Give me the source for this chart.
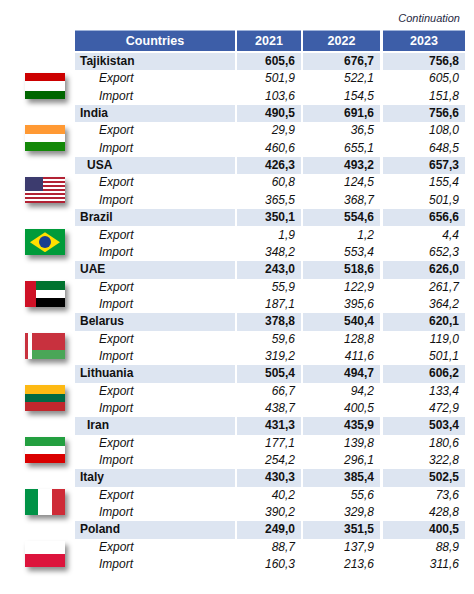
<!DOCTYPE html>
<html lang="en">
<head>
<meta charset="UTF-8">
<script src="https://cdn.jsdelivr.net/npm/chart.js"></script>
<style>
  body { margin: 0; width: 474px; height: 594px; background: #fff; font-family: Arial, "Liberation Sans", sans-serif; position: relative; overflow: hidden; }
  .abs { position: absolute; box-sizing: border-box; }
  .cont { right: 14px; top: 12px; font-size: 11px; font-style: italic; color: #1f2a44; }
  .hdr { background: #3d5ea8; color: #fff; font-weight: bold; font-size: 12.5px; text-align: center; line-height: 20px; border-top: 1px solid #9fb3d9; }
  .crow { background: #dde5f1; }
  .cell { font-size: 12px; line-height: 17px; color: #111; }
  .num { text-align: right; }
  .b { font-weight: bold; }
  .i { font-style: italic; }
  .flag { width: 40px; height: 26px; box-shadow: 3px 4px 5px rgba(0,0,0,0.45); overflow: hidden; }
</style>
</head>
<body>
<div class="abs cont">Continuation</div>
<div id="table"></div>
<script>
  const years = ['2021', '2022', '2023'];
  const countries = ['Tajikistan', 'India', 'USA', 'Brazil', 'UAE', 'Belarus', 'Lithuania', 'Iran', 'Italy', 'Poland'];
  const totals = [
    ['605,6', '676,7', '756,8'], ['490,5', '691,6', '756,6'], ['426,3', '493,2', '657,3'],
    ['350,1', '554,6', '656,6'], ['243,0', '518,6', '626,0'], ['378,8', '540,4', '620,1'],
    ['505,4', '494,7', '606,2'], ['431,3', '435,9', '503,4'], ['430,3', '385,4', '502,5'],
    ['249,0', '351,5', '400,5']
  ];
  const exports = [
    ['501,9', '522,1', '605,0'], ['29,9', '36,5', '108,0'], ['60,8', '124,5', '155,4'],
    ['1,9', '1,2', '4,4'], ['55,9', '122,9', '261,7'], ['59,6', '128,8', '119,0'],
    ['66,7', '94,2', '133,4'], ['177,1', '139,8', '180,6'], ['40,2', '55,6', '73,6'],
    ['88,7', '137,9', '88,9']
  ];
  const imports = [
    ['103,6', '154,5', '151,8'], ['460,6', '655,1', '648,5'], ['365,5', '368,7', '501,9'],
    ['348,2', '553,4', '652,3'], ['187,1', '395,6', '364,2'], ['319,2', '411,6', '501,1'],
    ['438,7', '400,5', '472,9'], ['254,2', '296,1', '322,8'], ['390,2', '329,8', '428,8'],
    ['160,3', '213,6', '311,6']
  ];
  const flags = [
    'linear-gradient(#cc0000 0 30%, #fff 30% 70%, #006600 70%)',
    'linear-gradient(#ff9933 0 33%, #fff 33% 67%, #138808 67%)',
    'linear-gradient(#3c3b6e,#3c3b6e) 0 0/45% 54% no-repeat, repeating-linear-gradient(#b22234 0 2px, #fff 2px 4px)',
    'linear-gradient(#009b3a,#009b3a)',
    'linear-gradient(#ce1126,#ce1126) 0 0/28% 100% no-repeat, linear-gradient(#00732f 0 33%, #fff 33% 67%, #000 67%)',
    'linear-gradient(90deg, #c8313e 0 3px, #fff 3px 7px, transparent 7px), linear-gradient(#c8313e 0 66%, #4aa657 66%)',
    'linear-gradient(#fdb913 0 33%, #006a44 33% 67%, #c1272d 67%)',
    'linear-gradient(#239f40 0 33%, #fff 33% 67%, #da0000 67%)',
    'linear-gradient(90deg, #009246 0 33%, #fff 33% 67%, #ce2b37 67%)',
    'linear-gradient(#fff 0 50%, #dc143c 50%)'
  ];

  const root = document.getElementById('table');
  const cols = [[75, 160], [237, 64], [303, 77], [383, 82]];
  function add(cls, x, y, w, h, text, style) {
    const d = document.createElement('div');
    d.className = 'abs ' + cls;
    Object.assign(d.style, { left: x + 'px', top: y + 'px', width: w + 'px', height: h + 'px' }, style || {});
    if (text) d.textContent = text;
    root.appendChild(d);
    return d;
  }
  add('hdr', cols[0][0], 30, cols[0][1], 21, 'Countries');
  years.forEach((y, i) => add('hdr', cols[i + 1][0], 30, cols[i + 1][1], 21, y));

  const top0 = 53, rowH = 17.35, blockH = rowH * 3;
  countries.forEach((c, k) => {
    const y0 = top0 + k * blockH;
    add('crow', cols[0][0], y0, cols[0][1], rowH);
    for (let i = 1; i < 4; i++) add('crow', cols[i][0], y0, cols[i][1], rowH);
    add('cell b', cols[0][0] + (k === 2 || k === 7 ? 12 : 5), y0, 140, rowH, c);
    add('cell i', 99, y0 + rowH, 100, rowH, 'Export');
    add('cell i', 99, y0 + 2 * rowH, 100, rowH, 'Import');
    for (let i = 0; i < 3; i++) {
      const x = cols[i + 1][0], w = cols[i + 1][1] - 6;
      add('cell num b', x, y0, w, rowH, totals[k][i]);
      add('cell num i', x, y0 + rowH, w, rowH, exports[k][i]);
      add('cell num i', x, y0 + 2 * rowH, w, rowH, imports[k][i]);
    }
    const f = add('flag', 25, y0 + 20, 40, 26);
    f.style.background = flags[k];
    if (k === 3) {
      const d = document.createElement('div');
      d.className = 'abs';
      Object.assign(d.style, { left: '5px', top: '3px', width: '30px', height: '20px', background: '#ffdf00', clipPath: 'polygon(50% 0,100% 50%,50% 100%,0 50%)' });
      f.appendChild(d);
      const o = document.createElement('div');
      o.className = 'abs';
      Object.assign(o.style, { left: '14px', top: '7px', width: '12px', height: '12px', borderRadius: '50%', background: '#1a3f8f' });
      f.appendChild(o);
    }
  });
</script>
</body>
</html>
